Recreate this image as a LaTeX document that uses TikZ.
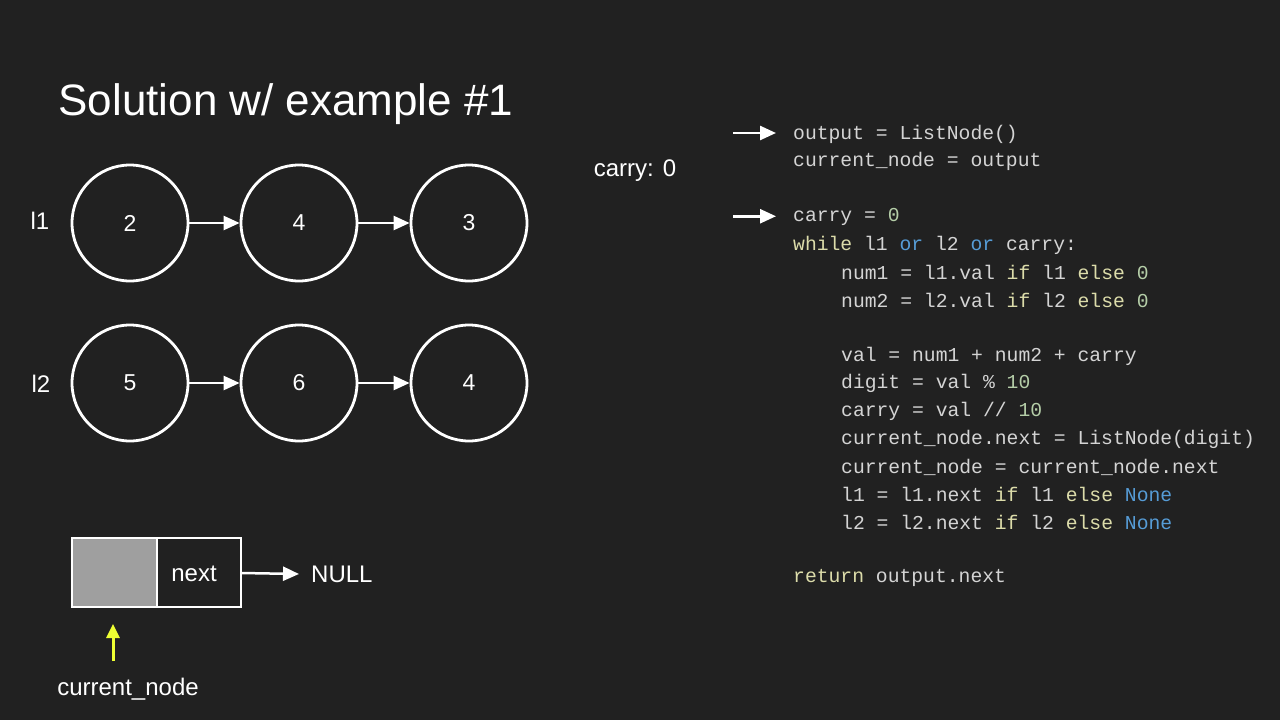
\documentclass[tikz,border=0pt]{standalone}
\usepackage{fontspec}
\setmainfont{Liberation Sans}
\newfontfamily\codefont{Liberation Mono}
\usetikzlibrary{arrows.meta}
\definecolor{bg}{HTML}{212121}
\definecolor{ct}{HTML}{D4D4D4}
\definecolor{kw}{HTML}{DCDCAA}
\definecolor{bl}{HTML}{569CD6}
\definecolor{nm}{HTML}{B5CEA8}
\definecolor{yl}{HTML}{EEFF33}
\newcommand{\K}[1]{\textcolor{kw}{#1}}
\newcommand{\B}[1]{\textcolor{bl}{#1}}
\newcommand{\N}[1]{\textcolor{nm}{#1}}
\begin{document}
\begin{tikzpicture}[x=1pt,y=-1pt,
  circ/.style={circle,draw=white,line width=2.8pt,minimum size=116pt,text=white,font=\fontsize{23}{25}\selectfont},
  lbl/.style={text=white,font=\fontsize{24}{26}\selectfont},
  code/.style={anchor=west,inner sep=0,text=ct,font=\codefont\fontsize{19.7}{22}\selectfont},
  arr/.style={white,line width=2.5pt,-{Triangle[length=16pt,width=14pt]}}]
\fill[bg] (0,0) rectangle (1280,720);
\useasboundingbox (0,0) rectangle (1280,720);
\node[text=white,anchor=west,font=\fontsize{44}{48}\selectfont] (title) at (55,104) {Solution w/ example \#1};
\node[lbl] (l1) at (40,221) {l1};
\node[lbl] (l2) at (41,384) {l2};
\node[circ] (a1) at (130,223) {2};
\node[circ] (a2) at (299,223) {4};
\node[circ] (a3) at (469,223) {3};
\node[circ] (b1) at (130,383) {5};
\node[circ] (b2) at (299,383) {6};
\node[circ] (b3) at (469,383) {4};
\draw[arr] (a1) -- (a2); \draw[arr] (a2) -- (a3);
\draw[arr] (b1) -- (b2); \draw[arr] (b2) -- (b3);
\fill[gray!75] (72,538) rectangle (157,607);
\draw[white,line width=1.5pt] (72,538) rectangle (241,607) (157,538) -- (157,607);
\node[lbl] (nx) at (194,574) {next};
\coordinate (boxr) at (241,573);
\node[lbl,anchor=west,inner sep=0] (null) at (311,574) {NULL};
\draw[arr] (boxr) -- ([xshift=-12pt]null.west);
\node[lbl] (cn) at (128,689) {current\_node};
\coordinate (ya) at (113,624);
\coordinate (yb) at (113,661);
\draw[yl,line width=3pt,-{Triangle[length=14pt,width=13pt]}] (yb) -- (ya);
\node[lbl] (carry) at (635,171) {carry: 0};
\node[code] (c0) at (793,{134}) {output = ListNode()};
\node[code] (c1) at (793,{134+27.75}) {current\_node = output};
\node[code] (c3) at (793,{134+27.75*3}) {carry = \N{0}};
\node[code] (c4) at (793,{134+27.75*4}) {\K{while} l1 \B{or} l2 \B{or} carry:};
\node[code] (c5) at (841,{134+27.75*5}) {num1 = l1.val \K{if} l1 \K{else} \N{0}};
\node[code] (c6) at (841,{134+27.75*6}) {num2 = l2.val \K{if} l2 \K{else} \N{0}};
\node[code] (c8) at (841,{134+27.75*8}) {val = num1 + num2 + carry};
\node[code] (c9) at (841,{134+27.75*9}) {digit = val \% \N{10}};
\node[code] (c10) at (841,{134+27.75*10}) {carry = val // \N{10}};
\node[code] (c11) at (841,{134+27.75*11}) {current\_node.next = ListNode(digit)};
\node[code] (c12) at (841,{134+27.75*12}) {current\_node = current\_node.next};
\node[code] (c13) at (841,{134+27.75*13}) {l1 = l1.next \K{if} l1 \K{else} \B{None}};
\node[code] (c14) at (841,{134+27.75*14}) {l2 = l2.next \K{if} l2 \K{else} \B{None}};
\node[code] (c16) at (793,{134+27.75*16}) {\K{return} output.next};
\coordinate (p0) at (733,133);
\coordinate (p3) at (733,{133+27.75*3});
\draw[arr] (p0) -- ([xshift=-17pt,yshift=1pt]c0.west);
\draw[arr] (p3) -- ([xshift=-17pt,yshift=1pt]c3.west);
\end{tikzpicture}
\end{document}
